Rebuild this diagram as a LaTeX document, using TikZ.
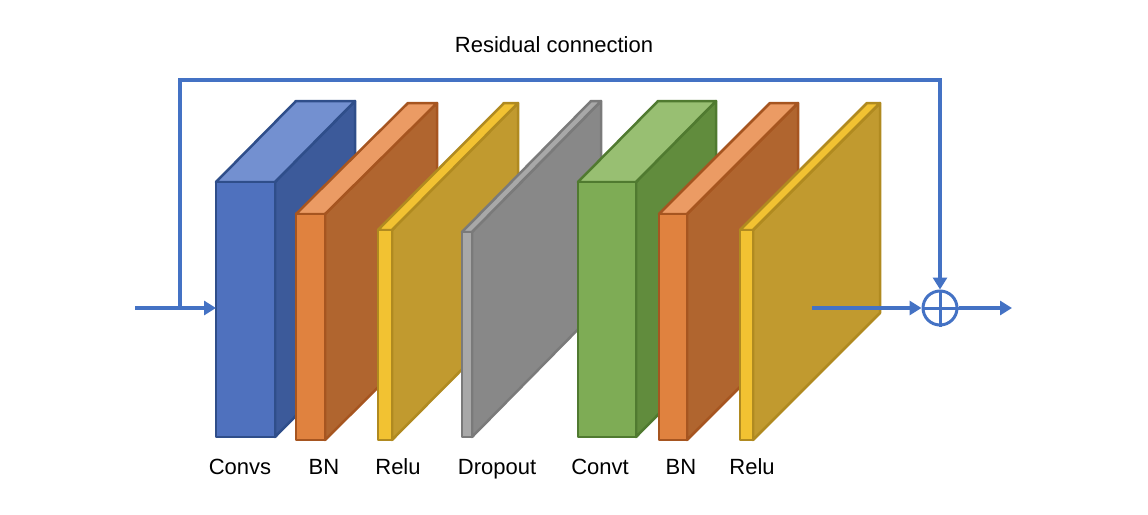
\documentclass[tikz,border=0pt]{standalone}
\usepackage{fontspec}
\setmainfont{Liberation Sans}
\usetikzlibrary{arrows.meta}
\definecolor{bF}{HTML}{4F71BE}\definecolor{bT}{HTML}{7390D0}\definecolor{bS}{HTML}{3C5A9A}\definecolor{bE}{HTML}{2F4E8A}
\definecolor{oF}{HTML}{E0823F}\definecolor{oT}{HTML}{EB9B64}\definecolor{oS}{HTML}{B0652F}\definecolor{oE}{HTML}{A65520}
\definecolor{yF}{HTML}{F2C232}\definecolor{yT}{HTML}{F2C232}\definecolor{yS}{HTML}{C19A2F}\definecolor{yE}{HTML}{B08A20}
\definecolor{gF}{HTML}{A8A8A8}\definecolor{gT}{HTML}{A8A8A8}\definecolor{gS}{HTML}{888888}\definecolor{gE}{HTML}{7A7A7A}
\definecolor{nF}{HTML}{7EAC55}\definecolor{nT}{HTML}{98BF72}\definecolor{nS}{HTML}{618C3D}\definecolor{nE}{HTML}{507A30}
\definecolor{ln}{HTML}{4472C4}
\newcommand{\cub}[8]{% x1 x2 ytop ybot dx dy colorprefix name
 \begin{scope}[draw=#7E,line width=2.5pt,line join=round]
 \fill[#7S,draw=#7E] (#2,#3)--(#2+#5,#3-#6)--(#2+#5,#4-#6)--(#2,#4)--cycle;
 \fill[#7T,draw=#7E] (#1,#3)--(#1+#5,#3-#6)--(#2+#5,#3-#6)--(#2,#3)--cycle;
 \fill[#7F,draw=#7E] (#1,#3) rectangle (#2,#4);
 \coordinate (#8) at (#1,{(#3+#4)/2});
 \end{scope}}
\tikzset{lbl/.style={font=\fontsize{22}{24}\selectfont,anchor=base},
 conn/.style={draw=ln,line width=4pt,-{Triangle[length=12pt,width=14pt]}}}
\begin{document}
\begin{tikzpicture}[x=1pt,y=-1pt]
\useasboundingbox (0,0) rectangle (1148,514);
\draw[ln,line width=4pt] (180,308)--(180,80)--(940,80)--(940,240);
\cub{216}{275}{182}{437}{80}{81}{b}{convs}
\cub{296}{325}{214}{440}{112}{111}{o}{bn1}
\cub{378}{392}{230}{440}{126}{127}{y}{relu1}
\cub{462}{472}{232}{437}{129}{131}{g}{drop}
\cub{578}{636}{182}{437}{80}{81}{n}{convt}
\cub{659}{687}{214}{440}{111}{111}{o}{bn2}
\cub{740}{753}{230}{440}{127}{127}{y}{relu2}
\node[circle,draw=ln,line width=3pt,minimum size=34pt,inner sep=0] (sum) at (940,308) {};
\draw[ln,line width=3pt] (sum.north)--(sum.south) (sum.west)--(sum.east);
\coordinate (in) at (135,308);
\coordinate (mid) at (812,308);
\coordinate (out) at (1012,308);
\coordinate (top) at (940,240);
\draw[conn] (in)--(216,308);
\draw[conn] (top)--(sum.north);
\draw[conn] (mid)--(sum.west);
\draw[conn] (sum.east)--(out);
\node[lbl] at (554,52) {Residual connection};
\node[lbl] at (240,474) {Convs};
\node[lbl] at (324,474) {BN};
\node[lbl] at (398,474) {Relu};
\node[lbl] at (497,474) {Dropout};
\node[lbl] at (600,474) {Convt};
\node[lbl] at (681,474) {BN};
\node[lbl] at (752,474) {Relu};
\end{tikzpicture}
\end{document}
